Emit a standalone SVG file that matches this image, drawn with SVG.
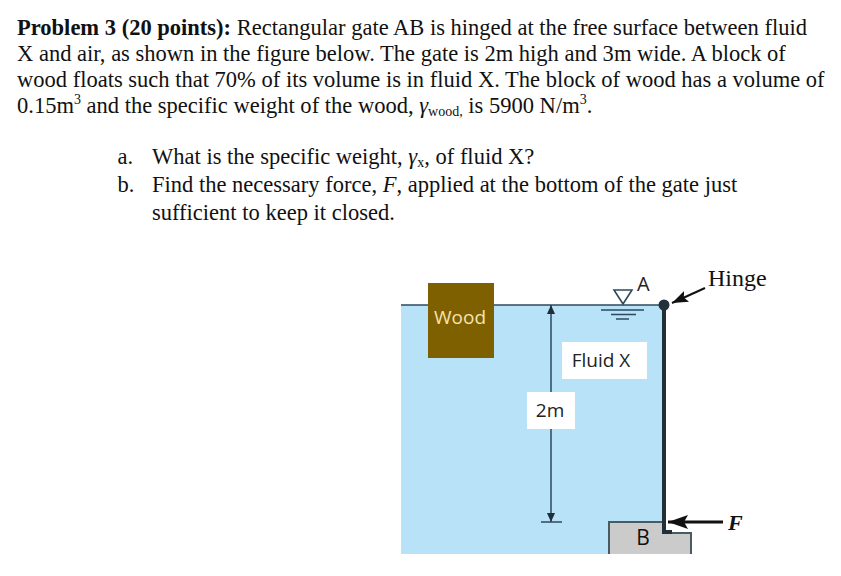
<svg xmlns="http://www.w3.org/2000/svg" width="841" height="576" viewBox="0 0 841 576">
<style>
.t{font-family:"Liberation Serif","Times New Roman",serif;font-size:22.53px;fill:#111}
.s{font-family:"Open Sans","Noto Sans",sans-serif;font-size:19px;fill:#222}
.l{stroke:#2c4a5e;fill:none}
</style>
<defs>
<marker id="ah" markerUnits="userSpaceOnUse" markerWidth="10" markerHeight="10" refX="9" refY="4" orient="auto-start-reverse"><path d="M0 0L9 4L0 8Z" fill="#1f2f3a"/></marker>
<marker id="bh" markerUnits="userSpaceOnUse" markerWidth="22" markerHeight="16" refX="20" refY="7" orient="auto"><path d="M0 0L20 7L0 14L4 7Z" fill="#111"/></marker>
<marker id="hh" markerUnits="userSpaceOnUse" markerWidth="18" markerHeight="13" refX="16" refY="6" orient="auto"><path d="M0 0L16 6L0 12L3 6Z" fill="#111"/></marker>
</defs>
<rect width="841" height="576" fill="#fff"/>
<g id="problem-text">
<text class="t" x="17" y="35"><tspan font-weight="bold">Problem 3 (20 points):</tspan> Rectangular gate AB is hinged at the free surface between fluid</text>
<text class="t" x="17" y="61">X and air, as shown in the figure below. The gate is 2m high and 3m wide. A block of</text>
<text class="t" x="17" y="87">wood floats such that 70% of its volume is in fluid X. The block of wood has a volume of</text>
<text class="t" x="17" y="113">0.15m<tspan font-size="14" dy="-9">3</tspan><tspan dy="9"> and the specific weight of the wood, </tspan><tspan font-style="italic">γ</tspan><tspan font-size="14" dy="3">wood,</tspan><tspan dy="-3"> is 5900 N/m</tspan><tspan font-size="14" dy="-9">3</tspan><tspan dy="9">.</tspan></text>
<text class="t" x="117.500" y="164">a.</text>
<text class="t" x="152" y="164">What is the specific weight, <tspan font-style="italic">γ</tspan><tspan font-size="14" dy="3">x</tspan><tspan dy="-3">, of fluid X?</tspan></text>
<text class="t" x="117.500" y="192">b.</text>
<text class="t" x="152" y="192">Find the necessary force, <tspan font-style="italic">F</tspan>, applied at the bottom of the gate just</text>
<text class="t" x="152" y="220">sufficient to keep it closed.</text>
</g>
<g id="fluid"><rect x="401" y="305" width="262" height="249" fill="#b7e2f8"/><line class="l" x1="401" y1="305" x2="664" y2="305" stroke-width="1.5"/></g>
<g id="wood"><rect x="428" y="283" width="66" height="75" fill="#7f6000"/><text x="460" y="324" text-anchor="middle" font-family="Open Sans,sans-serif" font-size="19" fill="#f3e3b0">Wood</text></g>
<g id="support"><path d="M609 554V522H662V533H691V554Z" fill="#cbcbcb"/><path d="M609 554V522H662M668 533H691V554" fill="none" stroke="#4a5a62" stroke-width="2"/><text class="s" x="643" y="545" text-anchor="middle" style="font-size:21px;fill:#111">B</text></g>
<g id="connectors">
<line class="l" x1="551" y1="305" x2="551" y2="522" stroke-width="1.5" marker-start="url(#ah)" marker-end="url(#ah)"/>
<line class="l" x1="541" y1="522" x2="562" y2="522" stroke-width="1.5"/>
<line x1="705" y1="288" x2="672" y2="303" stroke="#111" stroke-width="2" marker-end="url(#hh)"/>
<line x1="723" y1="522" x2="668" y2="522" stroke="#111" stroke-width="3" marker-end="url(#bh)"/>
</g>
<g id="gate"><path d="M664 305V532H672" fill="none" stroke="#23303a" stroke-width="4"/><circle cx="664" cy="305" r="5.500" fill="#23303a"/></g>
<g id="water-level">
<path d="M614 290H632L623 304Z" fill="none" stroke="#2c4a5e" stroke-width="1.6"/>
<path class="l" stroke-width="1.6" d="M601 310H644M611 314.500H636M616 319H629"/>
<text x="637" y="291" font-family="Open Sans,sans-serif" font-size="20" fill="#222">A</text>
</g>
<g id="label-hinge"><text class="t" x="708" y="286" style="font-size:24px">Hinge</text></g>
<g id="label-fluid"><rect x="562" y="342" width="85" height="37" fill="#fff"/><text class="s" x="601" y="367" text-anchor="middle">Fluid X</text></g>
<g id="label-2m"><rect x="527" y="392" width="48" height="37" fill="#fff"/><text class="s" x="550" y="417" text-anchor="middle">2m</text></g>
<g id="label-F"><text class="t" x="728" y="530" font-style="italic" style="font-size:22px;font-weight:bold">F</text></g>
</svg>
